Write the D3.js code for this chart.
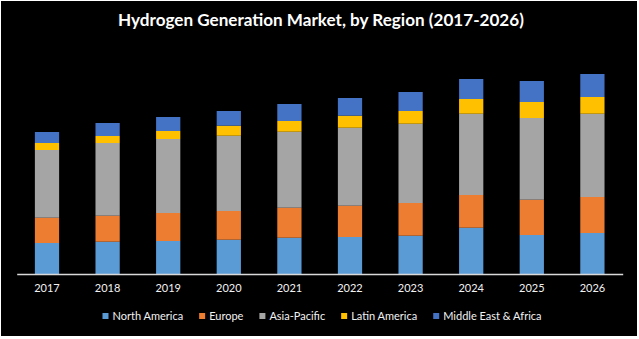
<!DOCTYPE html>
<html>
<head>
<meta charset="utf-8">
<script src="https://cdn.jsdelivr.net/npm/d3@7"></script>
<style>
  body { margin: 0; background: #fff; }
  text { font-family: "Lato", "Open Sans", sans-serif; }
</style>
</head>
<body>
<svg id="chart" width="639" height="339"></svg>
<script>
// data (market size, arbitrary units)
var years = ["2017","2018","2019","2020","2021","2022","2023","2024","2025","2026"];
var regions = ["North America","Europe","Asia-Pacific","Latin America","Middle East & Africa"];
var northAmerica = [31, 32.3, 33, 34.3, 36.3, 37, 38.3, 46.3, 39, 41];
var europe       = [25.3, 26, 28, 28.7, 30, 31.3, 32.7, 32.7, 35.3, 36];
var asiaPacific  = [67.7, 72.7, 74, 75.3, 76, 78, 79.3, 81.3, 81.7, 83.3];
var latinAmerica = [7, 7, 8, 10, 10.7, 12, 12.7, 14.7, 16, 16.7];
var middleEast   = [11, 13, 14, 14.7, 17, 17.7, 19, 20, 21, 23];
var colors = ["#5B9BD5","#ED7D31","#A5A5A5","#FFC000","#4472C4"];

var series = [northAmerica, europe, asiaPacific, latinAmerica, middleEast];
var table = years.map(function(y, i) {
  var row = {year: y};
  regions.forEach(function(r, j) { row[r] = series[j][i]; });
  return row;
});

var svg = d3.select("#chart");

svg.append("rect")
  .attr("x", 1).attr("y", 1)
  .attr("width", 636).attr("height", 335)
  .attr("fill", "#000");

svg.append("text")
  .attr("x", 321).attr("y", 26)
  .attr("text-anchor", "middle")
  .attr("fill", "#fff")
  .attr("font-size", 17.1)
  .attr("font-weight", "bold")
  .text("Hydrogen Generation Market, by Region (2017-2026)");

var x = d3.scaleBand()
  .domain(years)
  .range([16.7, 622.7])
  .paddingInner(0.6)
  .paddingOuter(0.3);

var y = d3.scaleLinear()
  .domain([0, 200])
  .range([274, 74]);

var stacked = d3.stack().keys(regions)(table);

svg.append("g").selectAll("g")
  .data(stacked)
  .enter().append("g")
  .attr("fill", function(d, i) { return colors[i]; })
  .selectAll("rect")
  .data(function(d) { return d; })
  .enter().append("rect")
  .attr("x", function(d) { return x(d.data.year); })
  .attr("y", function(d) { return y(d[1]); })
  .attr("height", function(d) { return y(d[0]) - y(d[1]); })
  .attr("width", x.bandwidth());

var xAxis = svg.append("g")
  .attr("transform", "translate(0,274)")
  .call(d3.axisBottom(x).tickSize(0).tickPadding(10));
xAxis.select(".domain").attr("stroke", "#d9d9d9").attr("stroke-width", 1.5);
xAxis.selectAll("text")
  .attr("fill", "#f2f2f2")
  .attr("font-size", 11)
  .style("font-family", "Lato, sans-serif");

// legend
var legend = svg.append("g");
var items = legend.selectAll("g")
  .data(regions)
  .enter().append("g");
items.append("rect")
  .attr("width", 6).attr("height", 6)
  .attr("y", -3)
  .attr("fill", function(d, i) { return colors[i]; });
items.append("text")
  .attr("x", 10)
  .attr("dy", "0.35em")
  .attr("fill", "#f2f2f2")
  .attr("font-size", 11)
  .text(function(d) { return d; });

var pos = 0;
items.each(function() {
  var w = d3.select(this).select("text").node().getComputedTextLength();
  d3.select(this).attr("transform", "translate(" + pos + ",0)");
  pos += 10 + w + 16;
});
pos -= 16;
legend.attr("transform", "translate(" + (322 - pos / 2) + ",316)");
</script>
</body>
</html>
